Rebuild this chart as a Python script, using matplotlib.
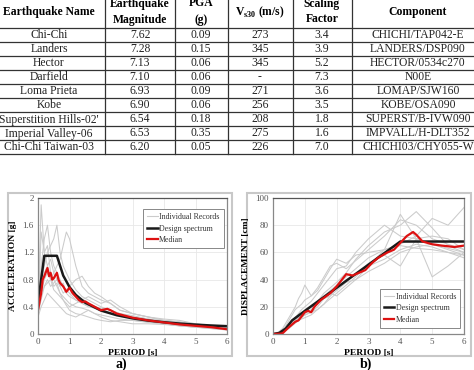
import numpy as np
import matplotlib
matplotlib.use('Agg')
import matplotlib.pyplot as plt
from matplotlib.patches import Rectangle

plt.rcParams['font.family'] = ['Liberation Serif', 'DejaVu Serif']
plt.rcParams['mathtext.fontset'] = 'custom'
plt.rcParams['mathtext.rm'] = 'Liberation Serif'
plt.rcParams['mathtext.bf'] = 'Liberation Serif:bold'

# ---- table data
names = ['Chi-Chi', 'Landers', 'Hector', 'Darfield', 'Loma Prieta', 'Kobe',
         "Superstition Hills-02'", 'Imperial Valley-06', 'Chi-Chi Taiwan-03']
magnitude = ['7.62', '7.28', '7.13', '7.10', '6.93', '6.90', '6.54', '6.53', '6.20']
pga = ['0.09', '0.15', '0.06', '0.06', '0.09', '0.06', '0.18', '0.35', '0.05']
vs30 = ['273', '345', '345', '-', '271', '256', '208', '275', '226']
scaling = ['3.4', '3.9', '5.2', '7.3', '3.6', '3.5', '1.8', '1.6', '7.0']
component = ['CHICHI/TAP042-E', 'LANDERS/DSP090', 'HECTOR/0534c270', 'N00E',
             'LOMAP/SJW160', 'KOBE/OSA090', 'SUPERST/B-IVW090',
             'IMPVALL/H-DLT352', 'CHICHI03/CHY055-W']

# ---- spectra data
period = [0, 0.1, 0.2, 0.3, 0.4, 0.5, 0.6, 0.7, 0.8, 0.9, 1.0, 1.2, 1.4,
          1.6, 1.8, 2.0, 2.3, 2.6, 3.0, 3.5, 4.0, 4.5, 5.0, 5.5, 6.0]

acc_records = [
    [0.35, 1.90, 1.20, 1.30, 0.90, 0.80, 0.70, 0.60, 0.55, 0.50, 0.45, 0.40, 0.38, 0.35, 0.30, 0.28, 0.25, 0.22, 0.20, 0.17, 0.15, 0.12, 0.10, 0.09, 0.08],
    [0.30, 1.00, 1.40, 1.60, 1.20, 1.00, 0.90, 0.80, 0.70, 0.65, 0.60, 0.50, 0.45, 0.40, 0.38, 0.35, 0.30, 0.28, 0.25, 0.20, 0.18, 0.15, 0.12, 0.10, 0.09],
    [0.40, 0.80, 1.00, 1.20, 1.30, 1.40, 1.60, 1.20, 1.00, 0.90, 0.80, 0.65, 0.55, 0.50, 0.45, 0.40, 0.35, 0.30, 0.27, 0.22, 0.18, 0.15, 0.12, 0.10, 0.08],
    [0.30, 0.60, 0.80, 0.90, 0.80, 0.90, 1.00, 1.10, 1.30, 1.50, 1.40, 1.00, 0.70, 0.60, 0.55, 0.50, 0.45, 0.35, 0.30, 0.25, 0.20, 0.17, 0.15, 0.12, 0.10],
    [0.30, 0.50, 0.70, 0.80, 0.70, 0.75, 0.80, 0.70, 0.60, 0.65, 0.70, 0.80, 0.85, 0.70, 0.60, 0.55, 0.45, 0.35, 0.30, 0.25, 0.22, 0.20, 0.15, 0.12, 0.10],
    [0.25, 0.40, 0.50, 0.60, 0.55, 0.50, 0.45, 0.40, 0.35, 0.30, 0.28, 0.25, 0.30, 0.35, 0.30, 0.25, 0.20, 0.18, 0.15, 0.15, 0.14, 0.12, 0.10, 0.08, 0.06],
    [0.30, 0.70, 0.90, 1.00, 0.85, 0.70, 0.75, 0.60, 0.50, 0.45, 0.40, 0.45, 0.50, 0.55, 0.50, 0.45, 0.50, 0.40, 0.30, 0.25, 0.20, 0.18, 0.14, 0.10, 0.08],
    [0.35, 0.60, 0.70, 0.75, 0.80, 0.65, 0.60, 0.55, 0.50, 0.42, 0.35, 0.30, 0.28, 0.25, 0.22, 0.20, 0.18, 0.20, 0.20, 0.18, 0.15, 0.12, 0.10, 0.08, 0.06],
    [0.30, 1.50, 1.20, 1.00, 1.10, 0.90, 0.80, 0.70, 0.75, 0.60, 0.55, 0.50, 0.45, 0.42, 0.40, 0.38, 0.35, 0.30, 0.25, 0.22, 0.20, 0.17, 0.13, 0.11, 0.08],
]

disp_records = [
    [0, 0, 1, 2, 4, 6, 8, 10, 12, 14, 16, 20, 22, 26, 28, 32, 38, 40, 50, 62, 88, 70, 42, 50, 60],
    [0, 0, 1, 2, 3, 5, 7, 9, 11, 13, 15, 18, 24, 30, 34, 38, 45, 55, 65, 75, 80, 90, 78, 65, 60],
    [0, 0, 1, 3, 5, 8, 10, 12, 14, 15, 16, 20, 24, 28, 32, 36, 42, 48, 56, 62, 66, 72, 85, 80, 93],
    [0, 0, 2, 4, 8, 12, 16, 20, 26, 30, 36, 28, 32, 40, 48, 55, 52, 58, 60, 62, 65, 63, 62, 60, 58],
    [0, 0, 1, 2, 4, 6, 9, 12, 15, 18, 20, 24, 30, 36, 42, 48, 50, 60, 70, 80, 72, 70, 72, 70, 62],
    [0, 0, 1, 2, 3, 4, 6, 8, 10, 12, 14, 16, 18, 22, 26, 30, 36, 42, 52, 58, 50, 70, 66, 62, 58],
    [0, 0, 1, 2, 4, 6, 8, 10, 12, 13, 14, 16, 20, 26, 30, 28, 34, 40, 46, 52, 60, 64, 66, 63, 60],
    [0, 0, 1, 3, 6, 10, 14, 18, 20, 22, 25, 28, 34, 42, 50, 52, 48, 54, 62, 72, 84, 80, 70, 66, 62],
    [0, 0, 1, 2, 3, 5, 7, 9, 10, 11, 12, 14, 18, 22, 28, 34, 40, 44, 50, 55, 62, 66, 64, 60, 56],
]

design_T = [0, 0.2, 0.6, 0.8, 1.0, 1.2, 1.5, 2.0, 2.5, 3.0, 3.5, 4.0, 4.5, 5.0, 5.5, 6.0]
design_acc = [0.45, 1.15, 1.15, 0.86, 0.69, 0.575, 0.46, 0.345, 0.276, 0.23, 0.197, 0.173, 0.153, 0.138, 0.125, 0.115]

median_T = [0, 0.1, 0.15, 0.2, 0.3, 0.35, 0.4, 0.45, 0.5, 0.6, 0.65, 0.7, 0.8, 0.9, 1.0, 1.1, 1.2, 1.3,
            1.4, 1.5, 1.6, 1.8, 2.0, 2.2, 2.3, 2.5, 3.0, 3.5, 4.0, 4.5, 5.0, 5.5, 6.0]
median_acc = [0.35, 0.6, 0.8, 0.85, 0.97, 0.85, 0.9, 0.8, 0.82, 0.9, 0.8, 0.75, 0.7, 0.62, 0.68, 0.6, 0.55, 0.5,
              0.47, 0.48, 0.45, 0.4, 0.35, 0.37, 0.35, 0.3, 0.24, 0.2, 0.17, 0.14, 0.12, 0.1, 0.07]

design_disp_T = [0, 0.2, 0.4, 0.6, 1.0, 2.0, 3.0, 4.0, 5.0, 6.0]
design_disp = [0, 0.8, 4, 10, 17, 34, 51, 68, 68, 68]

median_disp_T = [0, 0.2, 0.3, 0.5, 0.7, 0.8, 1.0, 1.1, 1.2, 1.3, 1.5, 1.8, 2.0, 2.1, 2.3, 2.5, 2.7, 2.9,
                 3.1, 3.3, 3.6, 3.8, 4.0, 4.2, 4.4, 4.5, 4.7, 5.0, 5.3, 5.7, 6.0]
median_disp = [0, 0.2, 0.5, 5, 9, 10, 16, 17, 16, 20, 25, 30, 35, 38, 44, 43, 45, 47,
               52, 56, 60, 62, 67, 72, 75, 73, 68, 66, 65, 64, 65]

W, H = 474, 370
fig = plt.figure(figsize=(W / 100, H / 100), dpi=100)

# ---- table drawn in pixel coordinates
tab = fig.add_axes([0, 0, 1, 1], zorder=0)
tab.set_xlim(0, W)
tab.set_ylim(H, 0)
tab.axis('off')

col_lines = [105, 175, 228, 293, 352]
col_centers = [49, 140, 201, 260, 322, 418]
row_top = 28
row_h = 14
fs = 8.4
lc = '#333333'
for x in col_lines:
    tab.plot([x, x], [-5, row_top + row_h * len(names)], color=lc, lw=0.9)
for i in range(len(names) + 1):
    y = row_top + row_h * i
    tab.plot([0, W], [y, y], color=lc, lw=0.9)

hdr = dict(ha='center', va='center', fontsize=fs, fontweight='bold')
tab.text(col_centers[0], 12, 'Earthquake Name', **hdr)
tab.text(col_centers[1], 3.5, 'Earthquake', **hdr)
tab.text(col_centers[1], 19.5, 'Magnitude', **hdr)
tab.text(col_centers[2], 3.5, 'PGA', **hdr)
tab.text(col_centers[2], 19.5, '(g)', **hdr)
tab.text(col_centers[3], 12, r'$\mathbf{V}_{\mathbf{s30}}$ (m/s)', **hdr)
tab.text(col_centers[4], 3.5, 'Scaling', **hdr)
tab.text(col_centers[4], 19.5, 'Factor', **hdr)
tab.text(col_centers[5], 12, 'Component', **hdr)

columns = [names, magnitude, pga, vs30, scaling, component]
for j, col in enumerate(columns):
    for i, val in enumerate(col):
        tab.text(col_centers[j], row_top + row_h * i + 7.5, val,
                 ha='center', va='center', fontsize=fs, color='#222222')

# outer gray frames of the two figures
for x0, x1 in [(8, 232), (247, 471)]:
    tab.add_patch(Rectangle((x0, 193), x1 - x0, 163, fill=False,
                            edgecolor='#c8c8c8', lw=1.5))
tab.text(121, 364, 'a)', ha='center', va='center', fontsize=10, fontweight='bold')
tab.text(366, 364, 'b)', ha='center', va='center', fontsize=10, fontweight='bold')

gray = '#cbcbcb'
black = '#1a1a1a'
red = '#dd1111'


def style(ax, ylabel, yticks):
    ax.set_xlim(0, 6)
    ax.set_xticks(range(7))
    ax.set_yticks(yticks)
    ax.set_ylim(yticks[0], yticks[-1])
    ax.grid(True, color='#e8e8e8', lw=0.6)
    ax.set_axisbelow(True)
    for s in ax.spines.values():
        s.set_color('#888888')
        s.set_linewidth(0.9)
    ax.spines['top'].set_color('#555555')
    ax.tick_params(length=0, labelsize=6.5, labelcolor='#555555', pad=3)
    ax.set_xlabel('PERIOD [s]', fontsize=6.8, fontweight='bold', labelpad=2)
    ax.set_ylabel(ylabel, fontsize=6.8, fontweight='bold', labelpad=4)


axA = fig.add_axes([38 / W, 1 - 334 / H, 189 / W, 136 / H], zorder=2)
for rec in acc_records:
    axA.plot(period, rec, color=gray, lw=0.75)
axA.plot(design_T, design_acc, color=black, lw=1.8)
axA.plot(median_T, median_acc, color=red, lw=1.6)
style(axA, 'ACCELERATION [g]', [0, 0.4, 0.8, 1.2, 1.6, 2.0])
axA.set_yticklabels(['0', '0.4', '0.8', '1.2', '1.6', '2'])

axB = fig.add_axes([273 / W, 1 - 334 / H, 191 / W, 136 / H], zorder=2)
for rec in disp_records:
    axB.plot(period, rec, color=gray, lw=0.75)
axB.plot(design_disp_T, design_disp, color=black, lw=1.8)
axB.plot(median_disp_T, median_disp, color=red, lw=1.6)
style(axB, 'DISPLACEMENT [cm]', [0, 20, 40, 60, 80, 100])

handles = [plt.Line2D([], [], color=gray, lw=0.8),
           plt.Line2D([], [], color=black, lw=1.8),
           plt.Line2D([], [], color=red, lw=1.6)]
labels = ['Individual Records', 'Design spectrum', 'Median']
for ax, anchor in [(axA, (0.77, 0.775)), (axB, (0.77, 0.19))]:
    leg = ax.legend(handles, labels, loc='center', bbox_to_anchor=anchor,
                    fontsize=5.7, frameon=True, fancybox=False, framealpha=1,
                    handlelength=1.3, handletextpad=0.2, borderpad=0.5,
                    labelspacing=0.45, borderaxespad=0)
    leg.get_frame().set_edgecolor('#888888')
    leg.get_frame().set_linewidth(0.7)
    for t in leg.get_texts():
        t.set_color('#333333')

fig.savefig('out.png', dpi=100)
